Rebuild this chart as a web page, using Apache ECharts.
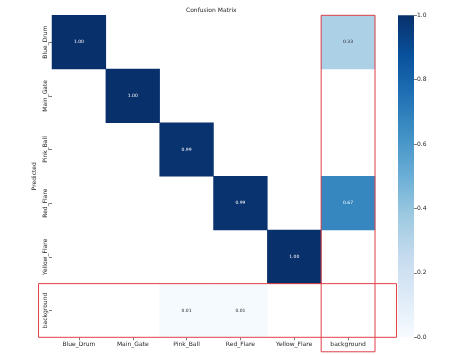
<!DOCTYPE html>
<html><head><meta charset="utf-8">
<script src="https://cdn.jsdelivr.net/npm/echarts@6/dist/echarts.min.js"></script>
<style>html,body{margin:0;padding:0;background:#fff}#c{width:474px;height:355px}</style>
</head><body><div id="c"></div>
<script>
const classes = ['Blue_Drum','Main_Gate','Pink_Ball','Red_Flare','Yellow_Flare','background'];
// rows = Predicted, columns = True
const rowBlueDrum   = [1.00, 0, 0, 0, 0, 0.33];
const rowMainGate   = [0, 1.00, 0, 0, 0, 0];
const rowPinkBall   = [0, 0, 0.99, 0, 0, 0];
const rowRedFlare   = [0, 0, 0, 0.99, 0, 0.67];
const rowYellowFlare= [0, 0, 0, 0, 1.00, 0];
const rowBackground = [0, 0, 0.01, 0.01, 0, 0];
const colorbarTicks = [0.0, 0.2, 0.4, 0.6, 0.8, 1.0];
// highlight boxes in cell-edge units: [xStart, yStart, xEnd, yEnd]
const highlightRow = [-0.25, 5, 6.4, 6];
const highlightCol = [5, 0, 6, 6.27];

const matrix = [rowBlueDrum,rowMainGate,rowPinkBall,rowRedFlare,rowYellowFlare,rowBackground];
const highlights = [highlightRow, highlightCol];
const blues = ['#f7fbff','#deebf7','#c6dbef','#9ecae1','#6baed6','#4292c6','#2171b5','#08519c','#08306b'];

const heatData = [];
matrix.forEach((row, r) => row.forEach((v, c) => {
  if (v !== 0) heatData.push({value:[c, r, v], label:{color: v > 0.5 ? '#ffffff' : '#262626'}});
}));

const font = 'DejaVu Sans';
const fs = 6;
const chart = echarts.init(document.getElementById('c'), null, {renderer:'canvas'});
chart.setOption({
  animation:false,
  backgroundColor:'#ffffff',
  textStyle:{fontFamily:font},
  title:{text:'Confusion Matrix', left:181, top:2, textStyle:{fontSize:fs, fontWeight:'normal', color:'#262626', fontFamily:font}},
  grid:[
    {left:52, top:15.3, width:323, height:322},
    {left:398, top:15.3, width:16, height:322}
  ],
  xAxis:[
    {type:'category', gridIndex:0, data:classes, axisLine:{show:false}, splitLine:{show:false},
     axisTick:{show:true, alignWithLabel:true, length:3, lineStyle:{color:'#262626', width:0.6}},
     axisLabel:{fontSize:fs, color:'#262626', margin:4, interval:0, fontFamily:font}},
    {type:'category', gridIndex:1, data:[''], show:false}
  ],
  yAxis:[
    {type:'category', gridIndex:0, data:classes, inverse:true, axisLine:{show:false}, splitLine:{show:false},
     axisTick:{show:true, alignWithLabel:true, length:3, lineStyle:{color:'#262626', width:0.6}},
     axisLabel:{fontSize:fs, color:'#262626', rotate:90, margin:4, interval:0, fontFamily:font},
     name:'Predicted', nameLocation:'middle', nameRotate:90, nameGap:15, nameMoveOverlap:false,
     nameTextStyle:{fontSize:fs, color:'#262626', fontFamily:font}},
    {type:'value', gridIndex:1, min:0, max:1, interval:0.2, position:'right',
     axisLine:{show:false}, splitLine:{show:false},
     axisTick:{show:true, length:3, lineStyle:{color:'#262626', width:0.6}},
     axisLabel:{fontSize:fs, color:'#262626', margin:3, fontFamily:font, formatter:v => v.toFixed(1)}}
  ],
  visualMap:{show:false, type:'continuous', min:0, max:1, seriesIndex:0, inRange:{color:blues}},
  series:[
    {type:'heatmap', xAxisIndex:0, yAxisIndex:0, data:heatData,
     label:{show:true, fontSize:4.5, fontFamily:font, formatter:p => p.value[2].toFixed(2)},
     emphasis:{disabled:true}},
    {type:'custom', xAxisIndex:0, yAxisIndex:0, clip:false, silent:true, z:10,
     data:highlights.map(() => [0, 0]),
     renderItem:(params, api) => {
       const h = highlights[params.dataIndex];
       const c = api.coord([0, 0]);
       const s = api.size([1, 1]);
       const ox = c[0] - s[0] / 2, oy = c[1] - s[1] / 2;
       return {type:'rect',
         shape:{x: ox + h[0]*s[0], y: oy + h[1]*s[1], width:(h[2]-h[0])*s[0], height:(h[3]-h[1])*s[1]},
         style:{fill:'none', stroke:'#e0404a', lineWidth:1}};
     }},
    {type:'custom', xAxisIndex:1, yAxisIndex:1, silent:true,
     data:[[0, 0, 1]],
     renderItem:(params, api) => {
       const p0 = api.coord([0, api.value(1)]);
       const p1 = api.coord([0, api.value(2)]);
       const w = api.size([1, 0])[0];
       return {type:'rect',
         shape:{x: p0[0] - w/2, y: p1[1], width: w, height: p0[1] - p1[1]},
         style:{fill:{type:'linear', x:0, y:0, x2:0, y2:1,
           colorStops: blues.slice().reverse().map((col, i) => ({offset: i/(blues.length-1), color: col}))}}};
     }}
  ]
});
</script>
</body></html>
